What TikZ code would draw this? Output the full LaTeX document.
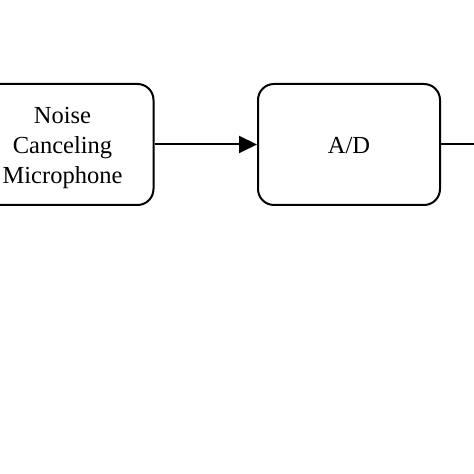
\documentclass[tikz,border=0pt]{standalone}
\usepackage{fontspec}
\setmainfont{Liberation Serif}
\usetikzlibrary{arrows.meta}
\begin{document}
\begin{tikzpicture}[x=1pt,y=1pt,
  blk/.style={draw=black,line width=2pt,rounded corners=16pt,minimum width=182pt,minimum height=121pt,inner sep=0pt},
  txt/.style={align=center,font=\fontsize{24.5}{30}\selectfont,inner sep=0pt},
  conn/.style={line width=2pt}]
\useasboundingbox (0,0) rectangle (474,474);
\clip (0,0) rectangle (474,474);
\fill[white] (0,0) rectangle (474,474);
\node[blk] (mic) at (62.5,329.5) {};
\node[blk] (ad) at (349,329.5) {};
\node[txt] (mictext) at ([yshift=-3.5pt]mic.center) {Noise\\Canceling\\Microphone};
\node[txt] (adtext) at ([yshift=-1.5pt]ad.center) {A/D};
\coordinate (out) at (480,329.5);
\draw[conn,-{Triangle[length=18pt,width=17pt]}] (mic) -- (ad);
\draw[conn] (ad) -- (out);
\end{tikzpicture}
\end{document}
